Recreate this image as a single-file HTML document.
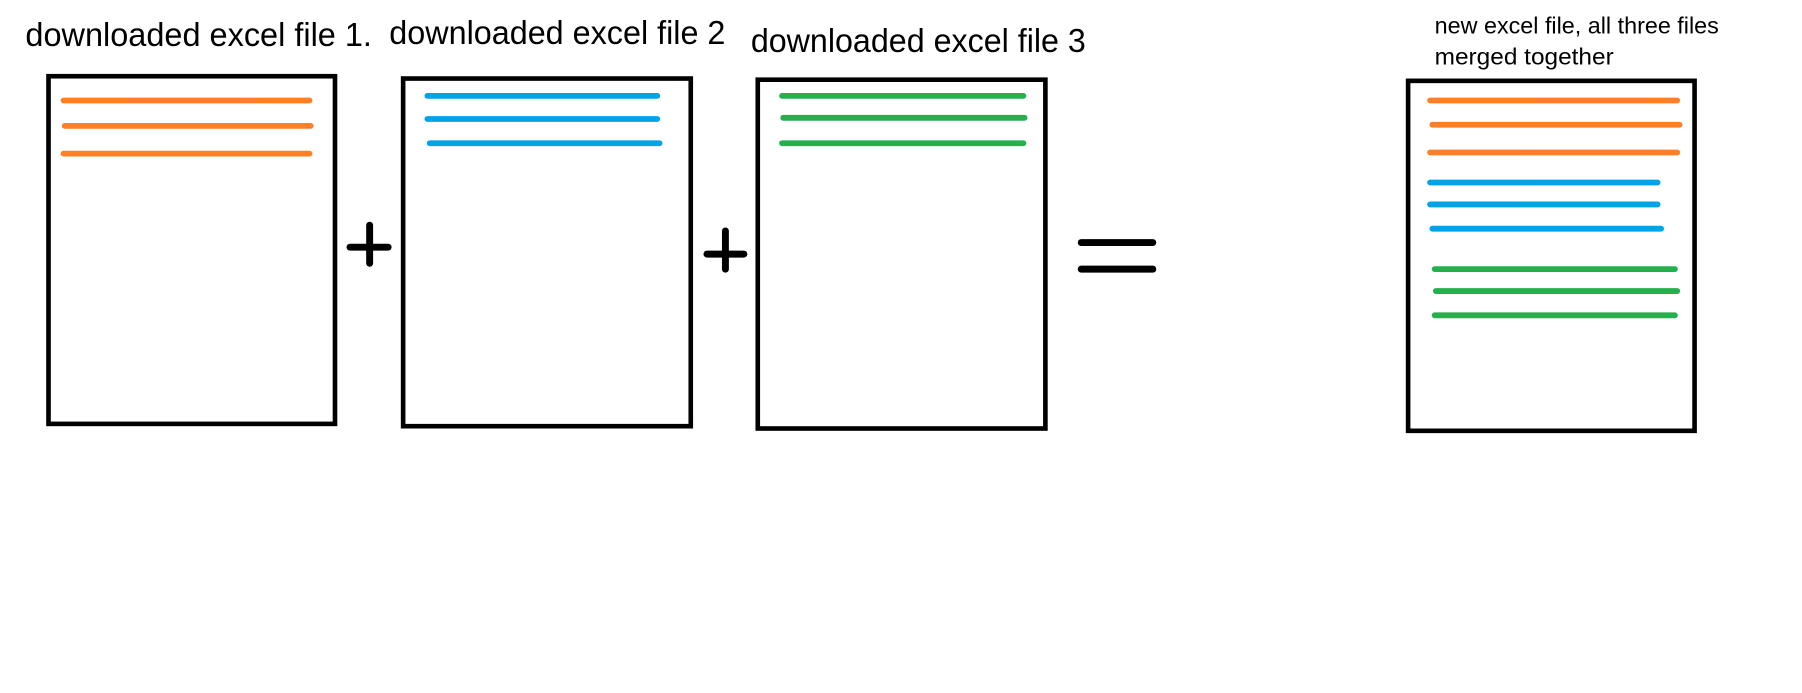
<!DOCTYPE html>
<html><head><style>html,body{margin:0;padding:0;background:#fff;}svg{display:block}</style></head>
<body>
<svg width="1802" height="693" viewBox="0 0 1560 600" preserveAspectRatio="none" xmlns="http://www.w3.org/2000/svg">
<rect width="1560" height="600" fill="#fff"/>
<g font-family="Liberation Sans, Arial, sans-serif" fill="#000">
<text x="22" y="40" font-size="29" textLength="300" lengthAdjust="spacingAndGlyphs">downloaded excel file 1.</text>
<text x="337" y="38" font-size="29" textLength="291" lengthAdjust="spacingAndGlyphs">downloaded excel file 2</text>
<text x="650" y="45" font-size="29" textLength="290" lengthAdjust="spacingAndGlyphs">downloaded excel file 3</text>
<text x="1242" y="29" font-size="20" textLength="246" lengthAdjust="spacingAndGlyphs">new excel file, all three files</text>
<text x="1242" y="56" font-size="20" textLength="155" lengthAdjust="spacingAndGlyphs">merged together</text>
</g>
<g fill="none" stroke="#000" stroke-width="4">
<rect x="42" y="66" width="248" height="301"/>
<rect x="349" y="68" width="249" height="301"/>
<rect x="656" y="69" width="249" height="302"/>
<rect x="1219" y="70" width="248" height="303"/>
</g>
<g stroke-linecap="round" stroke-width="5">
<g stroke="#ff7f27"><line x1="55" y1="87" x2="268" y2="87"/><line x1="56" y1="109" x2="269" y2="109"/><line x1="55" y1="133" x2="268" y2="133"/>
<line x1="1238" y1="87" x2="1452" y2="87"/><line x1="1240" y1="108" x2="1454" y2="108"/><line x1="1238" y1="132" x2="1452" y2="132"/></g>
<g stroke="#00a2e8"><line x1="370" y1="83" x2="569" y2="83"/><line x1="370" y1="103" x2="569" y2="103"/><line x1="372" y1="124" x2="571" y2="124"/>
<line x1="1238" y1="158" x2="1435" y2="158"/><line x1="1238" y1="177" x2="1435" y2="177"/><line x1="1240" y1="198" x2="1438" y2="198"/></g>
<g stroke="#22b14c"><line x1="677" y1="83" x2="886" y2="83"/><line x1="678" y1="102" x2="887" y2="102"/><line x1="677" y1="124" x2="886" y2="124"/>
<line x1="1242" y1="233" x2="1450" y2="233"/><line x1="1243" y1="252" x2="1452" y2="252"/><line x1="1242" y1="273" x2="1450" y2="273"/></g>
</g>
<g stroke="#000" stroke-width="6" stroke-linecap="round">
<line x1="303" y1="214" x2="336" y2="214"/><line x1="320" y1="195" x2="320" y2="228"/>
<line x1="612" y1="220" x2="644" y2="220"/><line x1="628" y1="200" x2="628" y2="233"/>
<line x1="936" y1="210" x2="998" y2="210"/><line x1="936" y1="233" x2="998" y2="233"/>
</g>
</svg>
</body></html>
